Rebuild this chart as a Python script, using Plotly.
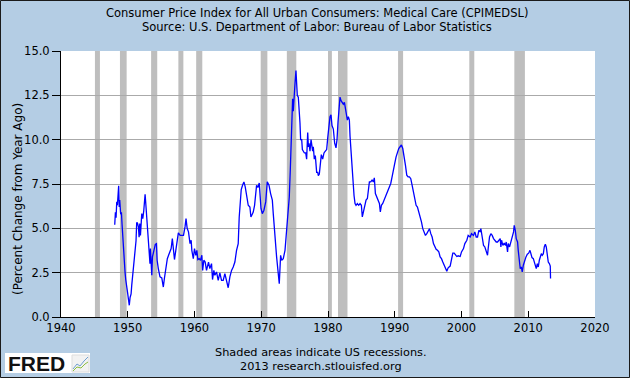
import plotly.graph_objects as go

# ---------------- data ----------------
years = [
    1948.05, 1948.15, 1948.25, 1948.35, 1948.45, 1948.55, 1948.64, 1948.72, 1948.8, 1948.94,
    1949.05, 1949.15, 1949.3, 1949.4, 1949.5, 1949.6, 1949.7, 1949.85, 1950.0, 1950.1,
    1950.23, 1950.35, 1950.5, 1950.6, 1950.74, 1950.9, 1951.04, 1951.24, 1951.34, 1951.45,
    1951.6, 1951.7, 1951.8, 1951.9, 1952.1, 1952.25, 1952.4, 1952.5, 1952.6, 1952.7,
    1952.9, 1953.05, 1953.2, 1953.33, 1953.4, 1953.6, 1953.7, 1953.9, 1954.13, 1954.3,
    1954.4, 1954.58, 1954.83, 1955.1, 1955.33, 1955.5, 1955.73, 1955.93, 1956.2, 1956.5,
    1956.68, 1956.8, 1957.0, 1957.2, 1957.4, 1957.58, 1957.85, 1958.1, 1958.35, 1958.58,
    1958.73, 1958.9, 1959.1, 1959.33, 1959.5, 1959.6, 1959.82, 1960.0, 1960.2, 1960.35,
    1960.5, 1960.7, 1960.9, 1961.1, 1961.22, 1961.4, 1961.6, 1961.8, 1962.1, 1962.3,
    1962.55, 1962.7, 1962.9, 1963.05, 1963.3, 1963.55, 1963.8, 1964.05, 1964.3, 1964.55,
    1964.8, 1965.05, 1965.3, 1965.55, 1965.8, 1966.05, 1966.3, 1966.55, 1966.7, 1966.9,
    1967.0, 1967.2, 1967.4, 1967.6, 1967.8, 1968.05, 1968.3, 1968.45, 1968.6, 1968.8,
    1969.0, 1969.15, 1969.3, 1969.5, 1969.7, 1969.96, 1970.16, 1970.4, 1970.67, 1970.9,
    1971.16, 1971.4, 1971.66, 1971.8, 1971.96, 1972.16, 1972.3, 1972.5, 1972.7, 1972.9,
    1973.06, 1973.3, 1973.56, 1973.8, 1974.0, 1974.2, 1974.35, 1974.46, 1974.6, 1974.7,
    1974.8, 1974.9, 1975.06, 1975.2, 1975.3, 1975.4, 1975.55, 1975.7, 1975.8, 1975.9,
    1976.06, 1976.16, 1976.3, 1976.46, 1976.66, 1976.8, 1976.96, 1977.06, 1977.16, 1977.3,
    1977.46, 1977.6, 1977.7, 1977.8, 1977.95, 1978.1, 1978.2, 1978.3, 1978.46, 1978.55,
    1978.7, 1978.85, 1979.0, 1979.2, 1979.4, 1979.6, 1979.8, 1979.96, 1980.1, 1980.3,
    1980.45, 1980.6, 1980.8, 1981.0, 1981.2, 1981.35, 1981.5, 1981.65, 1981.8, 1981.95,
    1982.1, 1982.3, 1982.46, 1982.6, 1982.75, 1982.9, 1983.05, 1983.2, 1983.3, 1983.45,
    1983.6, 1983.75, 1983.9, 1984.05, 1984.2, 1984.4, 1984.6, 1984.8, 1985.0, 1985.14,
    1985.3, 1985.5, 1985.7, 1985.9, 1986.04, 1986.2, 1986.4, 1986.6, 1986.8, 1986.94,
    1987.1, 1987.3, 1987.5, 1987.7, 1987.84, 1988.0, 1988.2, 1988.4, 1988.6, 1988.8,
    1989.0, 1989.2, 1989.4, 1989.6, 1989.8, 1990.0, 1990.2, 1990.4, 1990.6, 1990.8,
    1991.0, 1991.2, 1991.4, 1991.6, 1991.8, 1992.0, 1992.2, 1992.4, 1992.6, 1992.8,
    1993.0, 1993.2, 1993.4, 1993.6, 1993.8, 1994.0, 1994.2, 1994.4, 1994.6, 1994.8,
    1995.0, 1995.2, 1995.4, 1995.6, 1995.8, 1996.0, 1996.2, 1996.4, 1996.6, 1996.8,
    1997.0, 1997.2, 1997.4, 1997.6, 1997.8, 1998.0, 1998.3, 1998.5, 1998.7, 1998.9,
    1999.1, 1999.3, 1999.5, 1999.8, 2000.0, 2000.3, 2000.5, 2000.8, 2001.0, 2001.3,
    2001.5, 2001.8, 2002.0, 2002.2, 2002.4, 2002.6, 2002.8, 2002.9, 2003.1, 2003.3,
    2003.5, 2003.7, 2003.9, 2004.0, 2004.2, 2004.4, 2004.6, 2004.8, 2005.0, 2005.2,
    2005.4, 2005.6, 2005.8, 2005.9, 2006.0, 2006.2, 2006.4, 2006.6, 2006.7, 2006.9,
    2007.0, 2007.2, 2007.4, 2007.6, 2007.8, 2007.9, 2008.06, 2008.2, 2008.4, 2008.5,
    2008.66, 2008.8, 2008.96, 2009.1, 2009.26, 2009.47, 2009.66, 2009.86, 2010.06, 2010.26,
    2010.4, 2010.56, 2010.76, 2010.9, 2011.06, 2011.2, 2011.36, 2011.5, 2011.66, 2011.8,
    2011.96, 2012.1, 2012.26, 2012.4, 2012.56, 2012.7, 2012.86, 2013.0, 2013.16, 2013.3,
    2013.34,
]
pct_change = [
    5.2, 5.9, 5.6, 6.5, 6.3, 7.0, 7.4, 6.2, 6.6, 5.8,
    5.9, 5.2, 4.1, 3.3, 3.1, 2.5, 2.1, 1.8, 1.3, 1.0,
    0.66, 1.1, 1.3, 1.8, 2.45, 2.9, 3.4, 4.3, 5.3, 5.3,
    5.08, 4.5, 5.27, 4.6, 5.83, 5.55, 6.0, 6.59, 6.92, 6.4,
    5.36, 4.23, 3.95, 3.01, 3.86, 2.35, 3.39, 3.76, 4.1, 4.14,
    3.2, 2.73, 2.26, 2.2, 1.69, 2.2, 2.73, 3.29, 3.57, 3.86,
    4.42, 3.95, 3.24, 3.76, 4.42, 4.74, 4.6, 4.6, 4.6, 5.08,
    5.55, 5.0, 4.8, 4.14, 4.33, 3.76, 3.29, 3.86, 3.48, 3.76,
    3.24, 3.29, 3.2, 3.48, 2.63, 3.2, 3.1, 2.63, 3.1, 2.73,
    3.01, 2.11, 2.63, 2.35, 2.54, 2.07, 2.49, 2.07, 2.07, 2.45,
    2.07, 1.65, 2.26, 2.63, 2.82, 3.1, 3.76, 4.14, 5.64, 6.4,
    7.19, 7.43, 7.62, 7.34, 6.77, 6.3, 6.2, 5.64, 5.75, 5.92,
    6.3, 6.9, 7.43, 7.3, 7.56, 6.12, 5.83, 6.02, 6.49, 7.62,
    7.43, 6.96, 6.59, 5.83, 4.89, 4.14, 3.39, 2.63, 1.88, 3.48,
    3.2, 3.29, 3.76, 4.89, 5.64, 6.77, 8.28, 9.78, 11.1, 12.3,
    11.6, 12.6, 13.2, 13.9, 13.4, 12.5, 12.4, 11.7, 10.95, 10.0,
    10.0, 9.44, 9.35, 9.25, 9.25, 8.9, 10.4, 9.6, 9.8, 9.35,
    10.0, 9.6, 9.35, 9.6, 8.9, 9.1, 8.7, 8.16, 8.16, 7.97,
    8.06, 8.7, 9.16, 8.9, 9.25, 9.35, 9.44, 10.1, 10.6, 11.3,
    11.4, 10.8, 10.6, 9.8, 9.54, 10.0, 11.0, 11.7, 12.4, 12.2,
    12.1, 12.0, 12.1, 11.7, 11.3, 11.1, 11.3, 11.1, 10.2, 9.25,
    8.16, 7.22, 6.85, 6.4, 6.3, 6.4, 6.3, 6.4, 6.3, 5.64,
    5.92, 6.2, 6.59, 6.68, 7.25, 7.62, 7.62, 7.72, 7.62, 7.85,
    6.96, 6.77, 6.68, 6.4, 5.92, 6.3, 6.4, 6.59, 6.68, 6.87,
    7.15, 7.34, 7.53, 7.9, 8.37, 8.66, 9.03, 9.3, 9.5, 9.6,
    9.7, 9.5, 9.1, 8.56, 8.0, 7.9, 7.9, 7.8, 7.43, 7.06,
    6.87, 6.3, 6.2, 5.92, 5.73, 5.36, 4.98, 4.8, 4.6, 4.7,
    4.89, 4.98, 4.7, 4.51, 4.14, 3.95, 3.82, 3.76, 3.67, 3.39,
    3.29, 3.1, 2.92, 2.73, 2.58, 2.77, 2.87, 3.24, 3.6, 3.6,
    3.5, 3.41, 3.45, 3.41, 3.67, 3.86, 4.14, 4.33, 4.6, 4.51,
    4.7, 4.6, 4.8, 4.51, 4.51, 4.89, 4.8, 4.98, 4.51, 4.04,
    3.95, 3.76, 3.48, 3.86, 4.51, 4.7, 4.6, 4.42, 4.33, 4.23,
    4.23, 4.3, 4.42, 3.95, 4.33, 4.04, 4.17, 4.04, 4.23, 3.67,
    4.14, 3.95, 4.23, 4.51, 4.8, 5.17, 4.89, 4.42, 4.23, 3.76,
    3.29, 2.73, 2.82, 2.54, 2.92, 3.2, 3.39, 3.54, 3.6, 3.76,
    3.48, 3.35, 3.29, 3.1, 2.92, 2.73, 3.01, 2.82, 3.2, 3.39,
    3.57, 3.48, 3.57, 3.95, 4.1, 3.95, 3.29, 3.1, 3.01, 2.87,
    2.17,
]
recession_start = [1945.083, 1948.833, 1953.5, 1957.583, 1960.25, 1969.917,
                   1973.833, 1980.0, 1981.5, 1990.5, 2001.167, 2007.917]
recession_end = [1945.833, 1949.833, 1954.417, 1958.333, 1961.167, 1970.917,
                 1975.25, 1980.583, 1982.917, 1991.25, 2001.917, 2009.5]
x_ticks = [1940, 1950, 1960, 1970, 1980, 1990, 2000, 2010, 2020]
y_ticks = [0.0, 2.5, 5.0, 7.5, 10.0, 12.5, 15.0]
y_tick_labels = ["0.0", "2.5", "5.0", "7.5", "10.0", "12.5", "15.0"]

title1 = "Consumer Price Index for All Urban Consumers: Medical Care (CPIMEDSL)"
title2 = "Source: U.S. Department of Labor: Bureau of Labor Statistics"
y_title = "(Percent Change from Year Ago)"
note1 = "Shaded areas indicate US recessions."
note2 = "2013 research.stlouisfed.org"

# ---------------- layout geometry ----------------
W, H = 630, 378
ML, MR, MT, MB = 61, 35, 51, 61
PW, PH = W - ML - MR, H - MT - MB


def px(xpix):
    return (xpix - ML) / PW


def py(ypix):
    return (H - MB - ypix) / PH


FONT = "DejaVu Sans"
BG = "#B4CDE4"

fig = go.Figure()
fig.add_trace(go.Scatter(x=years, y=pct_change, mode="lines",
                         line=dict(color="#0000FF", width=1.3),
                         hoverinfo="skip", showlegend=False))

shapes = []
for s, e in zip(recession_start, recession_end):
    shapes.append(dict(type="rect", xref="x", yref="y", x0=s, x1=e, y0=0, y1=15,
                       fillcolor="#BEBEBE", line=dict(width=0), layer="below"))

# outer border
shapes.append(dict(type="rect", xref="paper", yref="paper",
                   x0=px(0.5), x1=px(W - 0.5), y0=py(H - 0.5), y1=py(0.5),
                   line=dict(color="#1a1a1a", width=1), fillcolor="rgba(0,0,0,0)"))
# FRED logo box
shapes.append(dict(type="rect", xref="paper", yref="paper",
                   x0=px(5), x1=px(90), y0=py(373), y1=py(353),
                   line=dict(width=0), fillcolor="white"))
shapes.append(dict(type="rect", xref="paper", yref="paper",
                   x0=px(72), x1=px(89), y0=py(372), y1=py(355),
                   line=dict(color="#dddddd", width=1), fillcolor="#f2f2f2"))
shapes.append(dict(type="path", xref="paper", yref="paper",
                   path=f"M {px(73)} {py(369)} L {px(77)} {py(364)} L {px(80)} {py(366)} "
                        f"L {px(84)} {py(361)} L {px(88)} {py(357)}",
                   line=dict(color="#6f9fcf", width=1)))
shapes.append(dict(type="path", xref="paper", yref="paper",
                   path=f"M {px(73)} {py(371)} L {px(77)} {py(367)} L {px(81)} {py(368)} "
                        f"L {px(85)} {py(364)} L {px(88)} {py(362)}",
                   line=dict(color="#8cbf3f", width=1)))

annotations = [
    dict(text=title1, x=px(317), y=py(13), xref="paper", yref="paper",
         showarrow=False, font=dict(family=FONT, size=11.5, color="black"),
         xanchor="center", yanchor="middle"),
    dict(text=title2, x=px(317), y=py(27), xref="paper", yref="paper",
         showarrow=False, font=dict(family=FONT, size=11.5, color="black"),
         xanchor="center", yanchor="middle"),
    dict(text=y_title, x=px(18), y=py(199), xref="paper", yref="paper",
         showarrow=False, textangle=-90, font=dict(family=FONT, size=12, color="black"),
         xanchor="center", yanchor="middle"),
    dict(text=note1, x=px(321), y=py(352), xref="paper", yref="paper",
         showarrow=False, font=dict(family=FONT, size=11.3, color="black"),
         xanchor="center", yanchor="middle"),
    dict(text=note2, x=px(321), y=py(366), xref="paper", yref="paper",
         showarrow=False, font=dict(family=FONT, size=11.3, color="black"),
         xanchor="center", yanchor="middle"),
    dict(text="<b>FRED</b>", x=px(6), y=py(363.5), xref="paper", yref="paper",
         showarrow=False, font=dict(family="Liberation Sans", size=21, color="#111111"),
         xanchor="left", yanchor="middle"),
]

fig.update_layout(
    width=W, height=H,
    margin=dict(l=ML, r=MR, t=MT, b=MB, pad=0),
    paper_bgcolor=BG, plot_bgcolor="white",
    shapes=shapes, annotations=annotations,
    showlegend=False,
    font=dict(family=FONT, size=11, color="black"),
    xaxis=dict(range=[1940, 2020], tickmode="array", tickvals=x_ticks,
               ticktext=[str(t) for t in x_ticks],
               showgrid=False, zeroline=False, showline=True, linecolor="black", linewidth=1,
               ticks="inside", ticklen=6, tickcolor="black", tickwidth=1,
               tickfont=dict(family=FONT, size=11.5, color="black")),
    yaxis=dict(range=[0, 15], tickmode="array", tickvals=y_ticks, ticktext=y_tick_labels,
               showgrid=True, gridcolor="#AAAAAA", gridwidth=1, zeroline=False,
               showline=True, linecolor="black", linewidth=1,
               ticks="outside", ticklen=8, tickcolor="black", tickwidth=1,
               tickfont=dict(family=FONT, size=11.5, color="black")),
)

fig.write_html("out.html", config={"displayModeBar": False},
               post_script="document.body.style.margin='0';document.body.style.overflow='hidden';")
